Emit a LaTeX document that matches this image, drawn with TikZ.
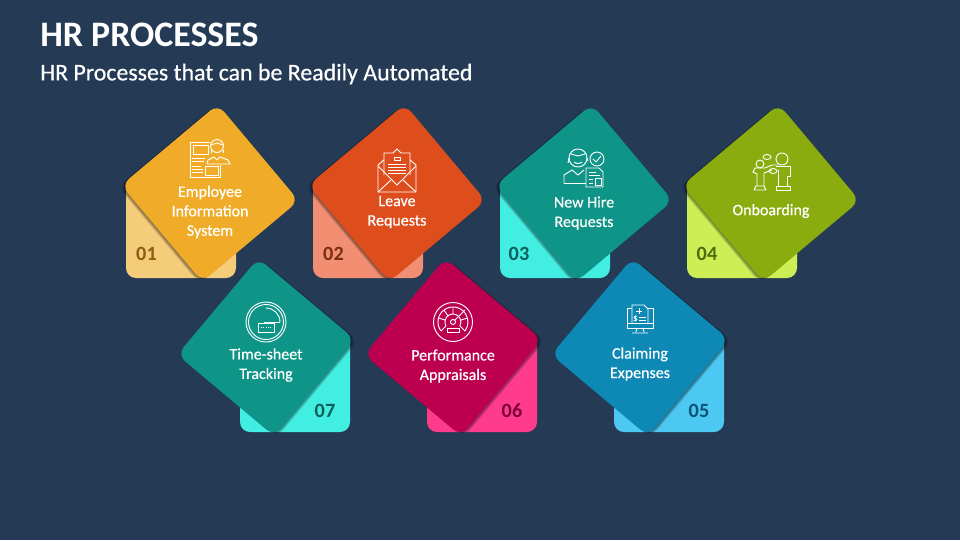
\documentclass[tikz,border=0pt]{standalone}
\usepackage{fontspec}
\setmainfont{Carlito}
\newfontfamily\labelfont[FakeBold=0.5]{Carlito}
\usetikzlibrary{shadows}
\definecolor{slidebg}{HTML}{243A55}
\definecolor{c1}{HTML}{F0AC28}
\definecolor{c2}{HTML}{DE4E1C}
\definecolor{c3}{HTML}{0F9488}
\definecolor{c4}{HTML}{8BAC0F}
\definecolor{c5}{HTML}{0E88B5}
\definecolor{c6}{HTML}{BC004F}
\definecolor{l1}{HTML}{F5CC7A}
\definecolor{l2}{HTML}{F28F72}
\definecolor{l3}{HTML}{42EDE2}
\definecolor{l4}{HTML}{CDEE55}
\definecolor{l5}{HTML}{4CC8F2}
\definecolor{l6}{HTML}{FF3C8C}
\definecolor{d1}{HTML}{8C5F10}
\definecolor{d2}{HTML}{7A2E12}
\definecolor{d3}{HTML}{0B5F5A}
\definecolor{d4}{HTML}{4F6B0E}
\definecolor{d5}{HTML}{0D5375}
\definecolor{d6}{HTML}{7A0035}
\tikzset{
	softshadow/.style={
		drop shadow={shadow xshift=#1*0.8pt, shadow yshift=-0.5pt, opacity=0.16, fill=black},
		drop shadow={shadow xshift=#1*1.6pt, shadow yshift=-0.8pt, opacity=0.16, fill=black},
		drop shadow={shadow xshift=#1*2.4pt, shadow yshift=-1.1pt, opacity=0.16, fill=black}},
	tile/.style={rectangle, rounded corners=7.5pt, minimum size=94.5pt, inner sep=0pt},
	label/.style={text=white, align=center, font=\labelfont\fontsize{12}{14.6}\selectfont},
	num/.style={font=\fontsize{15.2}{16}\selectfont\bfseries},
	icon/.style={draw=white, line width=0.7pt, fill=none}
}
\begin{document}
\begin{tikzpicture}[x=0.75pt, y=-0.75pt]
	\useasboundingbox[fill=slidebg] (0,0) rectangle (960,540);

	\node[anchor=west, inner sep=0pt, text=white, font=\fontsize{26.9}{30}\selectfont\bfseries] (title) at (40,35){HR PROCESSES};
	\node[anchor=west, inner sep=0pt, text=white, font=\labelfont\fontsize{17.9}{20}\selectfont] (subtitle) at (40,74){HR Processes that can be Readily Automated};

	% back cards
	\fill[l1] (126,188) [rounded corners=7.5pt] -- (126,278) -- (236,278) [sharp corners] -- (236,188) -- cycle;
	\fill[l2] (313,188) [rounded corners=7.5pt] -- (313,278) -- (423,278) [sharp corners] -- (423,188) -- cycle;
	\fill[l3] (500,188) [rounded corners=7.5pt] -- (500,278) -- (610,278) [sharp corners] -- (610,188) -- cycle;
	\fill[l4] (687,188) [rounded corners=7.5pt] -- (687,278) -- (797,278) [sharp corners] -- (797,188) -- cycle;
	\fill[l3] (240,342) [rounded corners=7.5pt] -- (240,432) -- (350,432) [sharp corners] -- (350,342) -- cycle;
	\fill[l6] (427,342) [rounded corners=7.5pt] -- (427,432) -- (537,432) [sharp corners] -- (537,342) -- cycle;
	\fill[l5] (614,342) [rounded corners=7.5pt] -- (614,432) -- (724,432) [sharp corners] -- (724,342) -- cycle;

	% diamonds
	\node[tile, softshadow=-1, fill=c1, rotate=40] (t1) at (210,193){};
	\node[tile, softshadow=-1, fill=c2, rotate=40] (t2) at (397,193){};
	\node[tile, softshadow=-1, fill=c3, rotate=40] (t3) at (584,193){};
	\node[tile, softshadow=-1, fill=c4, rotate=40] (t4) at (771,193){};
	\node[tile, softshadow=1, fill=c3, rotate=-40] (t7) at (266,347){};
	\node[tile, softshadow=1, fill=c6, rotate=-40] (t6) at (453,347){};
	\node[tile, softshadow=1, fill=c5, rotate=-40] (t5) at (640,347){};

	% labels
	\node[label] (n1) at (210,212){Employee\\Information\\System};
	\node[label] (n2) at (397,212){Leave\\Requests};
	\node[label] (n3) at (584,213){New Hire\\Requests};
	\node[label] (n4) at (771,211){Onboarding};
	\node[label] (n7) at (266,365){Time-sheet\\Tracking};
	\node[label] (n6) at (453,366){Performance\\Appraisals};
	\node[label] (n5) at (640,364){Claiming\\Expenses};

	% numbers
	\node[num, text=d1] (num1) at (146.5,253.5){01};
	\node[num, text=d2] (num2) at (333.5,253.5){02};
	\node[num, text=d3] (num3) at (519,253.5){03};
	\node[num, text=d4] (num4) at (707,253.5){04};
	\node[num, text=d3] (num7) at (325,410.5){07};
	\node[num, text=d6] (num6) at (512,410.5){06};
	\node[num, text=d5] (num5) at (699,410.5){05};

	% icon 1
	\draw[icon] (210,142) -- (190,142) -- (190,177) -- (220,177) -- (220,165);
	\draw[icon] (193,145) rectangle (208,154);
	\draw[icon] (205,166) rectangle (218,175);
	\draw[icon] (192,158) -- (205,158) (192,161) -- (204,161) (192,166) -- (201,166) (192,169) -- (203,169) (192,172) -- (203,172);
	\draw[icon] (217,146) circle (6.5);
	\draw[icon] (211,145) -- (217,143) -- (223,145);
	\draw[icon] (211,150) -- (211,153) (223,150) -- (223,153);
	\draw[icon] (207,164) -- (208,160) -- (214,157) -- (217,160) -- (220,157) -- (228,160) -- (230,164) -- (207,164);

	% icon 2
	\draw[icon] (384,175) -- (384,153) -- (393,153) -- (397,149) -- (401,153) -- (410,153) -- (410,175);
	\draw[icon] (394,157) rectangle (400,160);
	\draw[icon] (388,164) -- (406,164) (388,167) -- (406,167) (388,170) -- (406,170) (388,173) -- (406,173);
	\draw[icon] (384,160) -- (378,165) -- (378,192) -- (416,192) -- (416,165) -- (410,160);
	\draw[icon] (378,166) -- (397,185) -- (416,166);
	\draw[icon] (378,192) -- (391,180) (416,192) -- (403,180);

	% icon 3
	\draw[icon] (578,158) circle (9);
	\draw[icon] (571,154) -- (578,156) -- (585,154);
	\draw[icon] (574,162) .. controls (576,164) and (580,164) .. (582,162);
	\draw[icon] (569,158) -- (568,163) (587,158) -- (588,161);
	\draw[icon] (564,183) -- (564,175) -- (572,170) -- (578,175) -- (584,170);
	\draw[icon] (564,183) -- (586,183);
	\draw[icon] (597,159) circle (7);
	\draw[icon] (593,159) -- (596,162) -- (601,156);
	\draw[icon] (586,187) -- (586,168) -- (599,168) -- (603,172) -- (603,187) -- cycle;
	\draw[icon] (589,172) -- (596,172) (589,175) -- (600,175) (589,179) -- (593,179) (589,183) -- (593,183);
	\draw[icon] (595,178) rectangle (601,185);

	% icon 4
	\draw[icon] (760,164) circle (4);
	\draw[icon] (782,159) circle (6);
	\draw[icon] (754,190) -- (766,190) (754,190) -- (756,186) -- (764,186) -- (766,190);
	\draw[icon] (757,186) -- (757,174) -- (753,172) -- (755,168) -- (765,168) -- (772,165) -- (778,165) (764,186) -- (764,173) -- (772,170);
	\draw[icon] (776,190) -- (790,190) -- (790,186) -- (776,186) -- cycle;
	\draw[icon] (778,186) -- (778,170) (787,186) -- (787,176) -- (790,176) -- (790,166) -- (776,166);
	\draw[icon] (767,157) ellipse (4 and 2.5);
	\draw[icon] (773,171) ellipse (4 and 2.5);

	% icon 7
	\draw[icon] (266,322) circle (20);
	\draw[icon] (266,322) circle (17.5);
	\draw[icon] (266,308) arc (-90:0:14);
	\draw[icon] (258,323) rectangle (274,332);
	\draw[icon, densely dotted, line width=1.4pt] (261,327.5) -- (271,327.5);
	\draw[icon] (264,322) -- (280,322);

	% icon 6
	\draw[icon] (453,322) circle (19.5);
	\draw[icon] (441,331) arc (143:397:15);
	\draw[icon] (446,326) arc (150:390:8);
	\draw[icon] (441,331) -- (446,326) (465,331) -- (460,326);
	\draw[icon] (438.5,318) -- (445,320) (444,310) -- (448,316) (453,307) -- (453,314) (467.5,318) -- (461,320);
	\draw[icon] (453,322) circle (2.5);
	\draw[icon] (455,320) -- (465,310);
	\draw[icon] (447,328) rectangle (459,332);

	% icon 5
	\draw[icon] (632,308) -- (627,308) -- (627,328) -- (653,328) -- (653,308) -- (648,308);
	\draw[icon] (632,323) -- (632,305) -- (644,305) -- (648,309) -- (648,323);
	\draw[icon] (627,323) -- (653,323);
	\draw[icon] (639,308) -- (639,314) (636,311) -- (642,311);
	\draw[icon] (639,317) -- (646,317) (639,320) -- (646,320);
	\node[text=white, font=\fontsize{7}{8}\selectfont\bfseries, inner sep=0pt] (dollar) at (635.5,318.5){\$};
	\draw[icon] (637,328) -- (636,332) (643,328) -- (644,332) (632,333) -- (648,333);
\end{tikzpicture}
\end{document}
